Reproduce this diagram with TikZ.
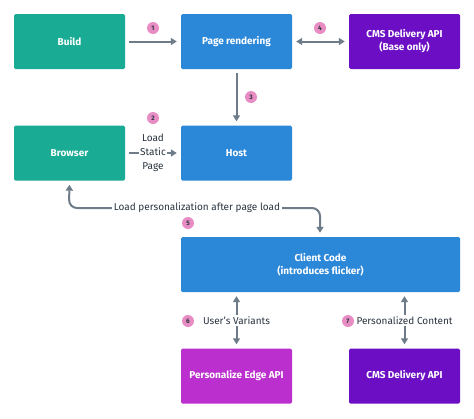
\documentclass[tikz,border=0pt]{standalone}
\usepackage{fontspec}
\setmainfont{Fira Sans}
\usetikzlibrary{arrows.meta}
\definecolor{cteal}{HTML}{1AAB94}
\definecolor{cblue}{HTML}{2B87D8}
\definecolor{cpurple}{HTML}{6C0FC4}
\definecolor{cmagenta}{HTML}{BA2FCD}
\definecolor{carrow}{HTML}{6E7C8A}
\definecolor{cbadge}{HTML}{E88DC4}
\definecolor{ctext}{HTML}{2A3440}
\begin{document}
\begin{tikzpicture}[x=1pt,y=-1pt,
  box/.style={rectangle, rounded corners=1.5pt, minimum width=111pt, minimum height=55pt, inner sep=0pt,
    text=white, font=\fontsize{10}{13}\selectfont\bfseries, align=center},
  conn/.style={draw=carrow, line width=2pt, -{Triangle[length=6pt,width=7pt]}, shorten >=4pt, shorten <=4pt},
  dconn/.style={conn, {Triangle[length=6pt,width=7pt]}-{Triangle[length=6pt,width=7pt]}},
  lbl/.style={fill=white, text=ctext, font=\fontsize{10}{14}\selectfont, inner sep=1.5pt, align=center},
  badge/.style={circle, fill=cbadge, minimum size=12pt, inner sep=0pt, text=ctext, font=\fontsize{6.5}{7}\selectfont\bfseries}]
\useasboundingbox (0,0) rectangle (474,418);
\fill[white] (0,0) rectangle (474,418);
\node[box, fill=cteal] (build) at (69.5,41.5) {Build};
\node[box, fill=cblue] (page) at (236.5,41.5) {Page rendering};
\node[box, fill=cpurple] (cms1) at (404.5,41.5) {CMS Delivery API\\(Base only)};
\node[box, fill=cteal] (browser) at (69.5,153) {Browser};
\node[box, fill=cblue] (host) at (236.5,153) {Host};
\node[box, fill=cblue, minimum width=279pt] (client) at (320.5,264.5) {Client Code\\(introduces flicker)};
\node[box, fill=cmagenta] (pers) at (236.5,376) {Personalize Edge API};
\node[box, fill=cpurple] (cms2) at (404.5,376) {CMS Delivery API};

\draw[conn] (build) -- (page);
\draw[dconn] (page) -- (cms1);
\draw[conn] (page) -- (host);
\draw[conn] (browser) -- node[lbl] (lsp) {Load\\Static\\Page} (host);
\coordinate (c1) at (69,208);
\coordinate (c2) at (320,208);
\draw[dconn, rounded corners=8pt] (browser.south) -- (c1) -- (c2) -- (c2 |- client.north);
\node[lbl] (lpl) at (197,208) {Load personalization after page load};
\draw[dconn] (pers.north) -- node[lbl] (uv) {User's Variants} (pers.north |- client.south);
\draw[dconn] (cms2.north) -- node[lbl] (pc) {Personalized Content} (cms2.north |- client.south);

\node[badge] (b1) at (153,28) {1};
\node[badge] (b2) at (153,118) {2};
\node[badge] (b3) at (251,97) {3};
\node[badge] (b4) at (320,28) {4};
\node[badge] (b5) at (188,223) {5};
\node[badge] (b6) at (188,321) {6};
\node[badge] (b7) at (348,321) {7};
\end{tikzpicture}
\end{document}
